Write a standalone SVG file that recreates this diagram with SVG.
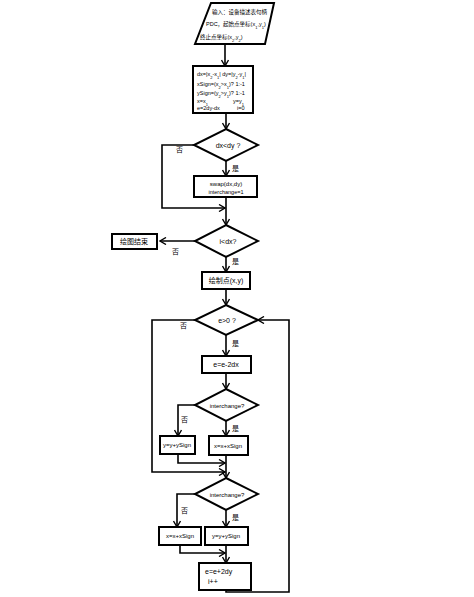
<svg xmlns="http://www.w3.org/2000/svg" width="474" height="597" viewBox="0 0 474 597">
<style>
.s{fill:#fff;stroke:#000;stroke-width:2}
.c{fill:none;stroke:#000;stroke-width:1.6}
text{font-family:"Liberation Sans","Noto Sans CJK SC",sans-serif;fill:#000}
.t{font-size:7px;text-anchor:middle}
.sm{font-size:5.5px}
.l{font-size:7px}
.b{font-size:4px;baseline-shift:sub}
</style>
<defs>
<marker id="a" markerWidth="8" markerHeight="8" refX="7" refY="4" orient="auto" markerUnits="userSpaceOnUse">
<path d="M1,0.5 L7,4 L1,7.5" fill="none" stroke="#000" stroke-width="1.4"/>
</marker>
</defs>
<rect width="474" height="597" fill="#fff"/>
<g id="connectors" class="c" marker-end="url(#a)">
<path d="M225,44 V66"/>
<path d="M226,113 V129"/>
<path d="M226,161 V176"/>
<path d="M194,145 H162 V208 H225"/>
<path d="M226,197 V225"/>
<path d="M195,241 H160"/>
<path d="M226,257 V272"/>
<path d="M226,289 V305"/>
<path d="M226,335 V356"/>
<path d="M195,320 H152 V472 H225"/>
<path d="M226,373 V389"/>
<path d="M195,405 H178 V436"/>
<path d="M226,421 V436"/>
<path d="M178,454 V463 H225"/>
<path d="M226,455 V478"/>
<path d="M195,494 H177 V527"/>
<path d="M226,510 V527"/>
<path d="M180,545 V553 H225"/>
<path d="M226,545 V563"/>
<path d="M226,590 V592 H289 V320 H258"/>
</g>
<g id="labels" class="l">
<text x="232" y="171">是</text>
<text x="176" y="152">否</text>
<text x="172" y="254">否</text>
<text x="232" y="264">是</text>
<text x="232" y="346">是</text>
<text x="180" y="328">否</text>
<text x="181" y="422">否</text>
<text x="232" y="431">是</text>
<text x="181" y="513">否</text>
<text x="232" y="520">是</text>
</g>
<g id="input">
<polygon class="s" points="211,3 274,3 265,44 195,44"/>
<text class="sm" x="212" y="14">输入：设备描述表句柄</text>
<text class="sm" x="206" y="26">PDC，起始点坐标(x<tspan class="b">1</tspan>,y<tspan class="b">1</tspan>)</text>
<text class="sm" x="200" y="39">终止点坐标(x<tspan class="b">2</tspan>,y<tspan class="b">2</tspan>)</text>
</g>
<g id="init">
<rect class="s" x="193" y="66" width="60" height="47"/>
<text class="sm" x="197" y="76">dx=|x<tspan class="b">2</tspan>-x<tspan class="b">1</tspan>|  dy=|y<tspan class="b">2</tspan>-y<tspan class="b">1</tspan>|</text>
<text class="sm" x="197" y="86">xSign=(x<tspan class="b">2</tspan>&gt;x<tspan class="b">1</tspan>)? 1:-1</text>
<text class="sm" x="197" y="95">ySign=(y<tspan class="b">2</tspan>&gt;y<tspan class="b">1</tspan>)? 1:-1</text>
<text class="sm" x="197" y="103">x=x<tspan class="b">1</tspan></text>
<text class="sm" x="233" y="103">y=y<tspan class="b">1</tspan></text>
<text class="sm" x="197" y="110">e=2dy-dx</text>
<text class="sm" x="237" y="110">i=0</text>
</g>
<g id="cmp1">
<polygon class="s" points="226,129 258,145 226,161 194,145"/>
<text class="t" x="228" y="148">dx&lt;dy ?</text>
</g>
<g id="swap">
<rect class="s" x="194" y="176" width="63" height="21"/>
<text class="t" x="226" y="186" style="font-size:6px">swap(dx,dy)</text>
<text class="t" x="226" y="194" style="font-size:5.5px">interchange=1</text>
</g>
<g id="loopcheck">
<polygon class="s" points="226,225 258,241 226,257 195,241"/>
<text class="t" x="228" y="244">i&lt;dx?</text>
</g>
<g id="end">
<rect class="s" x="112" y="234" width="45" height="15"/>
<text class="t" x="134" y="244">绘图结束</text>
</g>
<g id="plot">
<rect class="s" x="202" y="272" width="48" height="17"/>
<text class="t" x="226" y="283">绘制点(x,y)</text>
</g>
<g id="cmp2">
<polygon class="s" points="226,305 258,320 226,335 195,320"/>
<text class="t" x="227" y="323">e&gt;0 ?</text>
</g>
<g id="sub">
<rect class="s" x="202" y="356" width="49" height="17"/>
<text class="t" x="226" y="367">e=e-2dx</text>
</g>
<g id="int1">
<polygon class="s" points="226,389 258,405 226,421 195,405"/>
<text class="t" x="227" y="408" style="font-size:6px">interchange?</text>
</g>
<g id="yinc1">
<rect class="s" x="160" y="436" width="35" height="18"/>
<text class="t" x="177" y="447" style="font-size:6px">y=y+ySign</text>
</g>
<g id="xinc1">
<rect class="s" x="209" y="436" width="39" height="19"/>
<text class="t" x="228" y="448" style="font-size:6px">x=x+xSign</text>
</g>
<g id="int2">
<polygon class="s" points="226,478 258,494 226,510 195,494"/>
<text class="t" x="227" y="497" style="font-size:6px">interchange?</text>
</g>
<g id="xinc2">
<rect class="s" x="159" y="527" width="42" height="18"/>
<text class="t" x="180" y="538" style="font-size:6px">x=x+xSign</text>
</g>
<g id="yinc2">
<rect class="s" x="205" y="527" width="43" height="18"/>
<text class="t" x="226" y="538" style="font-size:6px">y=y+ySign</text>
</g>
<g id="update">
<rect class="s" x="199" y="563" width="52" height="27"/>
<text class="l" x="205" y="574">e=e+2dy</text>
<text class="l" x="208" y="584">i++</text>
</g>
</svg>
